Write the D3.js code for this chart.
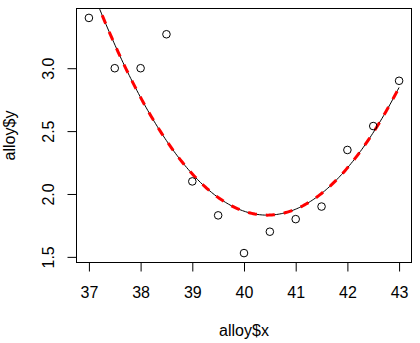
<!DOCTYPE html>
<html>
<head>
<meta charset="utf-8">
<script src="https://cdn.jsdelivr.net/npm/d3@7"></script>
<style>
  body { margin: 0; background: #fff; }
  text { font-family: "Liberation Sans", Arial, sans-serif; font-size: 16px; fill: #000; }
</style>
</head>
<body>
<div id="chart"></div>
<script>
// observed alloy data
let xVals = [37, 37.5, 38, 38.5, 39, 39.5, 40, 40.5, 41, 41.5, 42, 42.5, 43];
let yVals = [3.40, 3.00, 3.00, 3.27, 2.10, 1.83, 1.53, 1.70, 1.80, 1.90, 2.35, 2.54, 2.90];
let xTicks = [37, 38, 39, 40, 41, 42, 43];
let yTicks = [1.5, 2.0, 2.5, 3.0];

let width = 420, height = 343;
let box = {left: 76.5, right: 411.5, top: 8.5, bottom: 262.5};

let svg = d3.select('#chart')
  .append('svg')
  .attr('width', width)
  .attr('height', height);

// R style ranges: data range padded by 4%
let xr = d3.extent(xVals), yr = d3.extent(yVals);
let xPad = (xr[1] - xr[0]) * 0.04, yPad = (yr[1] - yr[0]) * 0.04;

let x = d3.scaleLinear()
  .domain([xr[0] - xPad, xr[1] + xPad])
  .range([box.left, box.right]);
let y = d3.scaleLinear()
  .domain([yr[0] - yPad, yr[1] + yPad])
  .range([box.bottom, box.top]);

// quadratic least squares fit, as lm(y ~ x + I(x^2))
function quadFit(xs, ys) {
  let m = d3.mean(xs);
  let s = [0, 0, 0, 0, 0], t = [0, 0, 0];
  xs.forEach((xv, i) => {
    let u = xv - m;
    for (let k = 0; k < 5; k++) s[k] += Math.pow(u, k);
    for (let k = 0; k < 3; k++) t[k] += ys[i] * Math.pow(u, k);
  });
  let A = [[s[0], s[1], s[2], t[0]], [s[1], s[2], s[3], t[1]], [s[2], s[3], s[4], t[2]]];
  for (let i = 0; i < 3; i++) {
    for (let j = i + 1; j < 3; j++) {
      let f = A[j][i] / A[i][i];
      for (let k = i; k < 4; k++) A[j][k] -= f * A[i][k];
    }
  }
  let c = [0, 0, 0];
  for (let i = 2; i >= 0; i--) {
    let v = A[i][3];
    for (let k = i + 1; k < 3; k++) v -= A[i][k] * c[k];
    c[i] = v / A[i][i];
  }
  return xv => c[0] + c[1] * (xv - m) + c[2] * (xv - m) * (xv - m);
}

let fit = quadFit(xVals, yVals);
let curve = d3.range(0, 201).map(i => {
  let xv = xr[0] + (xr[1] - xr[0]) * i / 200;
  return [xv, fit(xv)];
});

svg.append('clipPath').attr('id', 'plotclip')
  .append('rect')
  .attr('x', box.left).attr('y', box.top)
  .attr('width', box.right - box.left).attr('height', box.bottom - box.top);

let line = d3.line().x(d => x(d[0])).y(d => y(d[1]));

let plot = svg.append('g').attr('clip-path', 'url(#plotclip)');

plot.append('path')
  .datum(curve)
  .attr('d', line)
  .attr('fill', 'none')
  .attr('stroke', '#000')
  .attr('stroke-width', 1);

plot.append('path')
  .datum(curve)
  .attr('d', line)
  .attr('fill', 'none')
  .attr('stroke', '#ff0000')
  .attr('stroke-width', 3)
  .attr('stroke-dasharray', '9,9');

// points
svg.append('g')
  .selectAll('circle')
  .data(xVals)
  .enter()
  .append('circle')
  .attr('cx', (d, i) => x(d))
  .attr('cy', (d, i) => y(yVals[i]))
  .attr('r', 3.8)
  .attr('fill', 'none')
  .attr('stroke', '#000')
  .attr('stroke-width', 1);

// box
svg.append('rect')
  .attr('x', box.left).attr('y', box.top)
  .attr('width', box.right - box.left).attr('height', box.bottom - box.top)
  .attr('fill', 'none')
  .attr('stroke', '#000')
  .attr('stroke-width', 1);

// axes
let xAxis = svg.append('g')
  .attr('transform', `translate(0,${box.bottom})`)
  .call(d3.axisBottom(x).tickValues(xTicks).tickSize(9).tickFormat(d3.format('d')));
let yAxis = svg.append('g')
  .attr('transform', `translate(${box.left},0)`)
  .call(d3.axisLeft(y).tickValues(yTicks).tickSize(9).tickFormat(d3.format('.1f')));

[xAxis, yAxis].forEach(a => {
  a.attr('font-size', null).attr('font-family', null);
  a.select('.domain').remove();
  a.selectAll('line').attr('stroke', '#000');
  a.selectAll('text').attr('fill', '#000');
});

xAxis.selectAll('.tick text')
  .attr('y', 35).attr('dy', null);

// R axis line only spans the first to last tick
svg.append('line')
  .attr('x1', x(xTicks[0])).attr('x2', x(xTicks[xTicks.length - 1]))
  .attr('y1', box.bottom).attr('y2', box.bottom)
  .attr('stroke', '#000');

yAxis.selectAll('.tick text')
  .attr('x', null).attr('dy', null)
  .attr('text-anchor', 'middle')
  .attr('transform', 'translate(-22.5,0) rotate(-90)');

svg.append('text')
  .attr('x', (box.left + box.right) / 2)
  .attr('y', 336)
  .attr('text-anchor', 'middle')
  .text('alloy$x');

svg.append('text')
  .attr('transform', `translate(15,${(box.top + box.bottom) / 2}) rotate(-90)`)
  .attr('text-anchor', 'middle')
  .text('alloy$y');
</script>
</body>
</html>
